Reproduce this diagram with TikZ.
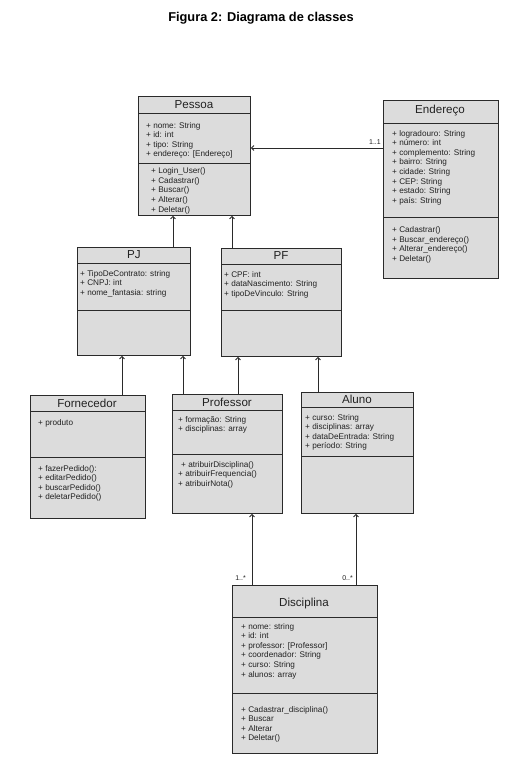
\documentclass[tikz,border=0pt]{standalone}
\usepackage{fontspec}
\setmainfont{Liberation Sans}
\usetikzlibrary{arrows.meta}
\definecolor{linec}{HTML}{2A2A2A}
\definecolor{boxfill}{HTML}{DCDCDC}
\definecolor{txt}{HTML}{222222}
\begin{document}
\begin{tikzpicture}[x=1pt,y=-1pt,
 cls/.style={draw=linec, fill=boxfill, line width=0.9pt, inner sep=0, anchor=north west},
 ttl/.style={font=\fontsize{11.6}{13}\selectfont, text=txt, inner sep=0},
 lst/.style={font=\fontsize{8.2}{9.6}\selectfont, align=left, anchor=north west, inner sep=0, text=txt},
 sep/.style={draw=linec, line width=0.9pt},
 inh/.style={draw=linec, line width=0.8pt, -{Straight Barb[length=2.5pt,width=5pt]}},
 mult/.style={font=\fontsize{7}{8}\selectfont, inner sep=0, text=txt}]
\useasboundingbox[fill=white] (0,0) rectangle (522,767);

\node[font=\bfseries\fontsize{12.8}{15}\selectfont, inner sep=0] (title) at (261,18) {Figura 2: Diagrama de classes};

% Pessoa
\node[cls, minimum width=112pt, minimum height=119pt] (pessoa) at (138,96) {};
\draw[sep] (138,113) -- (250,113);
\draw[sep] (138,163) -- (250,163);
\node[ttl] (pessoaT) at (194,105) {Pessoa};
\node[lst] (pessoaA) at (146,122) {+ nome: String\\+ id: int\\+ tipo: String\\+ endereço: [Endereço]};
\node[lst] (pessoaM) at (151,167.5) {+ Login\_User()\\+ Cadastrar()\\+ Buscar()\\+ Alterar()\\+ Deletar()};

% Endereco
\node[cls, minimum width=115pt, minimum height=178pt] (endereco) at (383,100) {};
\draw[sep] (383,123) -- (498,123);
\draw[sep] (383,217) -- (498,217);
\node[ttl] (enderecoT) at (440,111) {Endereço};
\node[lst] (enderecoA) at (392,130) {+ logradouro: String\\+ número: int\\+ complemento: String\\+ bairro: String\\+ cidade: String\\+ CEP: String\\+ estado: String\\+ país: String};
\node[lst] (enderecoM) at (392,226.5) {+ Cadastrar()\\+ Buscar\_endereço()\\+ Alterar\_endereço()\\+ Deletar()};

% PJ
\node[cls, minimum width=113pt, minimum height=108pt] (pj) at (77,247) {};
\draw[sep] (77,263) -- (190,263);
\draw[sep] (77,310) -- (190,310);
\node[ttl] (pjT) at (134,255) {PJ};
\node[lst] (pjA) at (80,270) {+ TipoDeContrato: string\\+ CNPJ: int\\+ nome\_fantasia: string};

% PF
\node[cls, minimum width=120pt, minimum height=108pt] (pf) at (221,248) {};
\draw[sep] (221,264) -- (341,264);
\draw[sep] (221,310) -- (341,310);
\node[ttl] (pfT) at (281,256) {PF};
\node[lst] (pfA) at (224,271) {+ CPF: int\\+ dataNascimento: String\\+ tipoDeVinculo: String};

% Fornecedor
\node[cls, minimum width=115pt, minimum height=123pt] (forn) at (30,395) {};
\draw[sep] (30,411) -- (145,411);
\draw[sep] (30,457) -- (145,457);
\node[ttl] (fornT) at (87,403) {Fornecedor};
\node[lst] (fornA) at (38,419) {+ produto};
\node[lst] (fornM) at (38,465) {+ fazerPedido():\\+ editarPedido()\\+ buscarPedido()\\+ deletarPedido()};

% Professor
\node[cls, minimum width=110pt, minimum height=119pt] (prof) at (172,394) {};
\draw[sep] (172,410) -- (282,410);
\draw[sep] (172,454) -- (282,454);
\node[ttl] (profT) at (227,402) {Professor};
\node[lst] (profA) at (178,416) {+ formação: String\\+ disciplinas: array};
\node[lst] (profM1) at (181,461) {+ atribuirDisciplina()};
\node[lst] (profM) at (178,470.6) {+ atribuirFrequencia()\\+ atribuirNota()};

% Aluno
\node[cls, minimum width=112pt, minimum height=121pt] (aluno) at (301,392) {};
\draw[sep] (301,407) -- (413,407);
\draw[sep] (301,456) -- (413,456);
\node[ttl] (alunoT) at (357,399) {Aluno};
\node[lst] (alunoA) at (305,414) {+ curso: String\\+ disciplinas: array\\+ dataDeEntrada: String\\+ período: String};

% Disciplina
\node[cls, minimum width=145pt, minimum height=168pt] (disc) at (232,585) {};
\draw[sep] (232,617) -- (377,617);
\draw[sep] (232,693) -- (377,693);
\node[ttl] (discT) at (304,603) {Disciplina};
\node[lst] (discA) at (241,623) {+ nome: string\\+ id: int\\+ professor: [Professor]\\+ coordenador: String\\+ curso: String\\+ alunos: array};
\node[lst] (discM) at (241,706) {+ Cadastrar\_disciplina()\\+ Buscar\\+ Alterar\\+ Deletar()};

% connectors
\draw[inh] (endereco.west |- 0,148) -- (pessoa.east |- 0,148);
\node[mult, anchor=south east] (m11) at (381,145) {1..1};
\draw[inh] (pj.north -| 173,0) -- (pessoa.south -| 173,0);
\draw[inh] (pf.north -| 232,0) -- (pessoa.south -| 232,0);
\draw[inh] (forn.north -| 122,0) -- (pj.south -| 122,0);
\draw[inh] (prof.north -| 183,0) -- (pj.south -| 183,0);
\draw[inh] (prof.north -| 238,0) -- (pf.south -| 238,0);
\draw[inh] (aluno.north -| 318,0) -- (pf.south -| 318,0);
\draw[inh] (disc.north -| 252,0) -- (prof.south -| 252,0);
\draw[inh] (disc.north -| 356,0) -- (aluno.south -| 356,0);
\node[mult, anchor=south east] (m1s) at (246,581) {1..*};
\node[mult, anchor=south east] (m0s) at (353,581) {0..*};
\end{tikzpicture}
\end{document}
